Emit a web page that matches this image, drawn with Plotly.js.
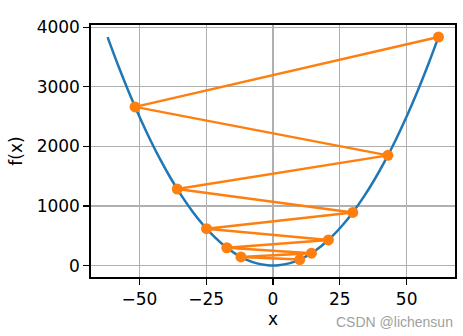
<!DOCTYPE html>
<html><head><meta charset="utf-8">
<script src="https://cdn.plot.ly/plotly-3.0.1.min.js"></script>
<style>html,body{margin:0;padding:0;background:#fff}#c{width:463px;height:336px}</style>
</head><body><div id="c"></div>
<script>
// f(x) = x^2 curve, sampled values
var curveX = [-61.9,-58,-54,-50,-46,-42,-38,-34,-30,-26,-22,-18,-14,-10,-6,-2,0,2,6,10,14,18,22,26,30,34,38,42,46,50,54,58,61.9];
var curveY = [3831.6,3364,2916,2500,2116,1764,1444,1156,900,676,484,324,196,100,36,4,0,4,36,100,196,324,484,676,900,1156,1444,1764,2116,2500,2916,3364,3831.6];
// gradient descent trajectory
var pathX = [10,-12,14.4,-17.28,20.74,-24.88,29.86,-35.83,43.0,-51.6,61.92];
var pathY = [100,144,207.4,298.6,430.0,619.2,891.6,1283.9,1848.8,2662.3,3834.0];
var xTicks = [-50,-25,0,25,50];
var yTicks = [0,1000,2000,3000,4000];

var font = {family:'DejaVu Sans', size:17, color:'#000'};
var data = [
  {x:curveX, y:curveY, mode:'lines', line:{color:'#1f77b4', width:2.5, shape:'spline'}, hoverinfo:'skip'},
  {x:pathX, y:pathY, mode:'lines+markers', line:{color:'#ff7f0e', width:2.5}, marker:{color:'#ff7f0e', size:11}}
];
var layout = {
  width:463, height:336, showlegend:false,
  paper_bgcolor:'#fff', plot_bgcolor:'#fff',
  margin:{l:91, r:8, t:25, b:59},
  font:font,
  xaxis:{range:[-68.1,68.1], tickvals:xTicks, ticktext:xTicks.map(function(v){return v<0?'\u2212'+(-v):String(v);}),
    showgrid:true, gridcolor:'#b0b0b0', gridwidth:1.3, zeroline:false,
    showline:true, linecolor:'#000', linewidth:1.7, mirror:true,
    ticks:'outside', ticklen:6, tickwidth:1.3, tickcolor:'#000',
    title:{text:'x', font:font, standoff:3}},
  yaxis:{range:[-192,4036], tickvals:yTicks, ticktext:yTicks.map(String),
    showgrid:true, gridcolor:'#b0b0b0', gridwidth:1.3, zeroline:false,
    showline:true, linecolor:'#000', linewidth:1.7, mirror:true,
    ticks:'outside', ticklen:6, tickwidth:1.3, tickcolor:'#000',
    title:{text:'f(x)', font:font, standoff:10}},
  annotations:[{text:'CSDN @lichensun', xref:'paper', yref:'paper', x:1.0, y:-0.14, xanchor:'right', yanchor:'top',
    showarrow:false, font:{family:'Liberation Sans', size:14, color:'#a0a0a0'}}]
};
Plotly.newPlot('c', data, layout, {staticPlot:true});
</script></body></html>
